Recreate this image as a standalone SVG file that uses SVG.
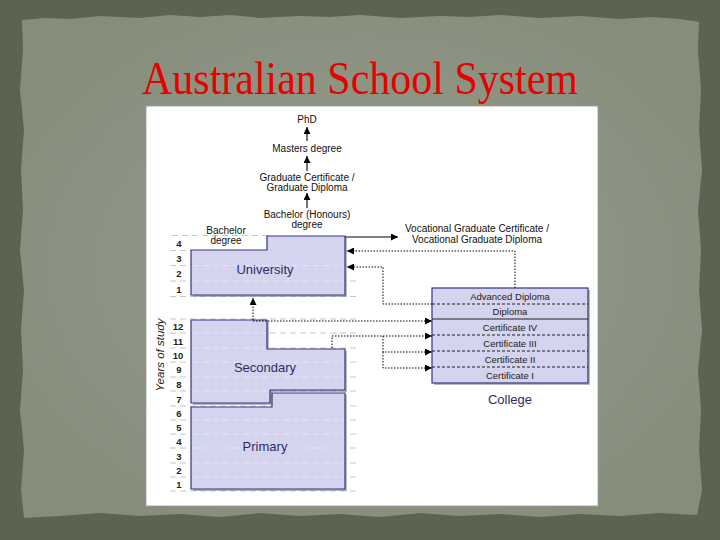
<svg xmlns="http://www.w3.org/2000/svg" width="720" height="540" viewBox="0 0 720 540">
<defs>
<radialGradient id="paper" cx="50%" cy="50%" r="60%">
<stop offset="0" stop-color="#989e8f"/>
<stop offset="1" stop-color="#868d7b"/>
</radialGradient>
<marker id="ah" viewBox="0 0 10 10" refX="10" refY="5" markerWidth="7" markerHeight="7" markerUnits="userSpaceOnUse" orient="auto">
<path d="M0,0 L10,5 L0,10 Z" fill="#000"/>
</marker>
<style>
.lbl{font-family:"Liberation Sans",Arial,sans-serif;font-size:10px;fill:#111;text-anchor:middle}
.yr{font-family:"Liberation Sans",Arial,sans-serif;font-size:9.5px;font-weight:bold;fill:#222;text-anchor:middle}
.big{font-family:"Liberation Sans",Arial,sans-serif;font-size:13px;fill:#2d2d66;text-anchor:middle}
.row{font-family:"Liberation Sans",Arial,sans-serif;font-size:9.5px;fill:#222;text-anchor:middle}
.shape{fill:#d4d4ee;stroke:#35357a;stroke-width:1.2}
.shadow{fill:#8a8aa0;opacity:0.6}
.grid{stroke:#c4c4cc;stroke-width:1;stroke-dasharray:6,4;fill:none}
.gridin{stroke:#e6e6f6;stroke-width:1;stroke-dasharray:6,4;fill:none}
.solid{stroke:#000;stroke-width:1.1;fill:none}
.dot{stroke:#000;stroke-width:1;stroke-dasharray:1.5,1.5;fill:none}
.sep{stroke:#222;stroke-width:1;stroke-dasharray:3,2;fill:none}
</style>
</defs>
<rect x="0" y="0" width="720" height="540" fill="#5c6451"/>
<path d="M22,20 L45,18 L70,19 L100,16 L140,18 L170,15 L200,17 L230,15 L260,18 L300,16 L330,17 L360,15 L400,18 L440,16 L470,17 L500,15 L540,18 L580,16 L620,19 L650,17 L680,19 L699,22 L698,50 L701,90 L699,130 L702,170 L698,210 L701,250 L699,290 L702,330 L698,370 L701,410 L699,450 L702,490 L697,515 L660,513 L620,516 L580,514 L540,517 L500,514 L460,516 L420,513 L380,517 L340,514 L300,516 L260,513 L220,517 L180,514 L140,516 L100,513 L60,516 L24,518 L21,490 L24,450 L20,410 L23,370 L21,330 L24,290 L20,250 L23,210 L21,170 L24,130 L20,90 L23,50 Z" fill="url(#paper)"/>
<text x="142" y="94" font-family="'Liberation Serif','Times New Roman',serif" font-size="46" fill="#e60000" textLength="436" lengthAdjust="spacingAndGlyphs">Australian School System</text>
<rect x="146" y="106" width="452" height="400" fill="#fff" stroke="#9a9a9a" stroke-width="0.8"/>

<g id="gridlines">
<path class="grid" d="M172,235.5 H268 M170,250.5 H358 M170,265.5 H358 M170,281 H358 M170,296.5 H358 M170,319 H358 M170,333 H358 M170,348 H358 M170,362 H358 M170,377 H358 M170,391 H358 M170,406 H358 M170,420 H358 M170,434 H358 M170,448 H358 M170,463 H358 M170,477 H358 M170,491 H358"/>
</g>

<g id="years">
<text class="yr" x="179" y="246.5">4</text>
<text class="yr" x="179" y="261.5">3</text>
<text class="yr" x="179" y="276.5">2</text>
<text class="yr" x="179" y="292.5">1</text>
<text class="yr" x="178" y="329.5">12</text>
<text class="yr" x="178" y="344.5">11</text>
<text class="yr" x="178" y="358.5">10</text>
<text class="yr" x="179" y="372.5">9</text>
<text class="yr" x="179" y="387.5">8</text>
<text class="yr" x="179" y="402.5">7</text>
<text class="yr" x="179" y="416.5">6</text>
<text class="yr" x="179" y="430.5">5</text>
<text class="yr" x="179" y="444.5">4</text>
<text class="yr" x="179" y="459.5">3</text>
<text class="yr" x="179" y="473.5">2</text>
<text class="yr" x="179" y="487.5">1</text>
<text x="164" y="355" transform="rotate(-90 164 355)" font-family="'Liberation Sans',Arial,sans-serif" font-size="11.5" font-style="italic" fill="#222" text-anchor="middle">Years of study</text>
</g>

<g id="university">
<path class="shadow" d="M193,252 H269 V238 H347 V297 H193 Z"/>
<path class="shape" d="M191,250 H267 V236 H345 V295 H191 Z"/>
<path class="gridin" d="M193,265.5 H344 M193,281 H344"/>
<text class="big" x="265" y="274">University</text>
</g>

<g id="secondary">
<path class="shadow" d="M193,322 H269 V351 H347 V392 H272 V405 H193 Z"/>
<path class="shape" d="M191,320 H267 V349 H345 V390 H270 V403 H191 Z"/>
<path class="gridin" d="M193,333 H266 M193,348 H266 M193,362 H344 M193,377 H344 M193,391 H269"/>
<text class="big" x="265" y="372">Secondary</text>
</g>

<g id="primary">
<path class="shadow" d="M193,409 H274 V395 H347 V491 H193 Z"/>
<path class="shape" d="M191,407 H272 V393 H345 V489 H191 Z"/>
<path class="gridin" d="M193,420 H344 M193,434 H344 M193,448 H344 M193,463 H344 M193,477 H344"/>
<text class="big" x="265" y="451">Primary</text>
</g>

<g id="college">
<rect x="434" y="290" width="156" height="95" class="shadow"/>
<rect x="432" y="288" width="156" height="95" class="shape"/>
<path class="sep" d="M432,304 H588 M432,335 H588 M432,351 H588 M432,367 H588"/>
<path d="M432,319 H588" stroke="#222" stroke-width="1.1"/>
<text class="row" x="510" y="300">Advanced Diploma</text>
<text class="row" x="510" y="315">Diploma</text>
<text class="row" x="510" y="331">Certificate IV</text>
<text class="row" x="510" y="346.5">Certificate III</text>
<text class="row" x="510" y="362.5">Certificate II</text>
<text class="row" x="510" y="378.5">Certificate I</text>
<text class="big" x="510" y="404">College</text>
</g>

<g id="labels">
<text class="lbl" x="307" y="123">PhD</text>
<text class="lbl" x="307" y="152">Masters degree</text>
<text class="lbl" x="307" y="181">Graduate Certificate /</text>
<text class="lbl" x="307" y="191">Graduate Diploma</text>
<text class="lbl" x="307" y="218">Bachelor (Honours)</text>
<text class="lbl" x="307" y="228">degree</text>
<text class="lbl" x="226" y="234">Bachelor</text>
<text class="lbl" x="226" y="244">degree</text>
<text class="lbl" x="477" y="232">Vocational Graduate Certificate /</text>
<text class="lbl" x="477" y="243">Vocational Graduate Diploma</text>
</g>

<g id="connectors">
<path class="solid" d="M307,141 V127" marker-end="url(#ah)"/>
<path class="solid" d="M307,171 V156" marker-end="url(#ah)"/>
<path class="solid" d="M307,208 V193" marker-end="url(#ah)"/>
<path class="solid" d="M345,237 H398" marker-end="url(#ah)"/>
<path class="dot" d="M515,288 V251 H347" marker-end="url(#ah)"/>
<path class="dot" d="M432,304 H383 V267 H347" marker-end="url(#ah)"/>
<path class="dot" d="M253,320 V298" marker-end="url(#ah)"/>
<path class="dot" d="M253,321 H432" marker-end="url(#ah)"/>
<path class="dot" d="M332,348 V336 H432" marker-end="url(#ah)"/>
<path class="dot" d="M383,336 V352 H432" marker-end="url(#ah)"/>
<path class="dot" d="M383,352 V368 H432" marker-end="url(#ah)"/>
</g>
</svg>
